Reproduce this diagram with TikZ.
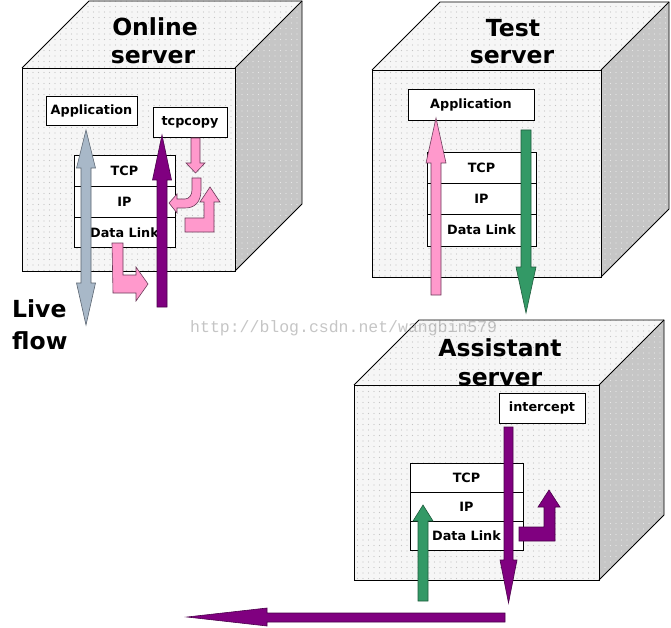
\documentclass[tikz,border=0pt]{standalone}
\usepackage{fontspec}
\setmainfont{DejaVu Sans}
\newfontfamily\wmfont{Liberation Mono}
\usetikzlibrary{patterns.meta}
\definecolor{frontc}{HTML}{F6F6F6}
\definecolor{frontdot}{HTML}{C4C4C4}
\definecolor{sidec}{HTML}{C6C6C6}
\definecolor{sidedot}{HTML}{E8E8E8}
\definecolor{pinkc}{HTML}{FF99CC}
\definecolor{pinkline}{HTML}{6B3B5A}
\definecolor{purplec}{HTML}{800080}
\definecolor{purpleline}{HTML}{4A004A}
\definecolor{greenc}{HTML}{339966}
\definecolor{greenline}{HTML}{1F5C3D}
\definecolor{grayc}{HTML}{A8B8C8}
\definecolor{grayline}{HTML}{5A6470}
\tikzdeclarepattern{
  name=cubedots, type=uncolored,
  bounding box={(-1pt,-1pt) and (1pt,1pt)},
  tile size={(5.5pt,5.5pt)},
  code={\pgfpathcircle{\pgfpointorigin}{0.6pt}\pgfusepath{fill}}
}
\tikzset{
  frontface/.style={fill=frontc, postaction={pattern=cubedots, pattern color=frontdot}},
  sideface/.style={fill=sidec, postaction={pattern=cubedots, pattern color=sidedot}},
  edge/.style={draw=black, line width=0.8pt, line join=miter},
  lbox/.style={draw=black, fill=white, line width=0.7pt, inner sep=0pt,
    font=\bfseries\fontsize{12.8}{15}\selectfont},
  title/.style={font=\bfseries\fontsize{23.5}{28}\selectfont, anchor=base, inner sep=0pt},
  pinkarr/.style={fill=pinkc, draw=pinkline, line width=0.6pt, line join=miter},
  purparr/.style={fill=purplec, draw=purpleline, line width=0.6pt, line join=miter},
  greenarr/.style={fill=greenc, draw=greenline, line width=0.6pt, line join=miter},
  grayarr/.style={fill=grayc, draw=grayline, line width=0.6pt, line join=miter},
}
% cube: x1, y1 (top), x2, y2 (bottom), depth
\newcommand\servercube[5]{%
  \path[frontface] (#1,#2) rectangle (#3,#4);
  \path[frontface] (#1,#2) -- ({#1+#5},{#2-#5}) -- ({#3+#5},{#2-#5}) -- (#3,#2) -- cycle;
  \path[sideface] (#3,#2) -- ({#3+#5},{#2-#5}) -- ({#3+#5},{#4-#5}) -- (#3,#4) -- cycle;
  \draw[edge] (#1,#2) rectangle (#3,#4);
  \draw[edge] (#1,#2) -- ({#1+#5},{#2-#5}) -- ({#3+#5},{#2-#5}) -- ({#3+#5},{#4-#5}) -- (#3,#4);
  \draw[edge] (#3,#2) -- ({#3+#5},{#2-#5});
}
\begin{document}
\begin{tikzpicture}[x=1pt,y=-1pt]
\useasboundingbox[fill=white] (0,0) rectangle (671,628);

% ---------- cubes ----------
\servercube{22}{68}{235}{271}{67}
\servercube{372}{70}{601}{277}{68}
\servercube{354}{385}{599}{580}{65}

% ---------- titles ----------
\node[title] (t1a) at (155,36) {Online};
\node[title] (t1b) at (153,64) {server};
\node[title] (t2a) at (513,37) {Test};
\node[title] (t2b) at (512,64) {server};
\node[title] (t3a) at (500,356) {Assistant};
\node[title] (t3b) at (500,385) {server};
\node[title, anchor=base west] (live) at (12,317) {Live};
\node[title, anchor=base west] (flow) at (12,349) {flow};

% ---------- online server boxes ----------
\node[lbox, minimum width=91pt, minimum height=29pt] (app1) at (91.5,110.5) {Application};
\node[lbox, minimum width=74pt, minimum height=30pt] (tcpcopy) at (190,122) {tcpcopy};
\node[lbox, minimum width=101pt, minimum height=30.7pt] (tcp1) at (124.5,171) {TCP};
\node[lbox, minimum width=101pt, minimum height=30.7pt] (ip1) at (124.5,201.7) {IP};
\node[lbox, minimum width=101pt, minimum height=30.7pt] (dl1) at (124.5,232.4) {Data Link};

% ---------- test server boxes ----------
\node[lbox, minimum width=126pt, minimum height=31pt] (app2) at (471,104.5) {Application};
\node[lbox, minimum width=109pt, minimum height=31.3pt] (tcp2) at (481.5,167.6) {TCP};
\node[lbox, minimum width=109pt, minimum height=31.3pt] (ip2) at (481.5,198.9) {IP};
\node[lbox, minimum width=109pt, minimum height=31.3pt] (dl2) at (481.5,230.2) {Data Link};

% ---------- assistant server boxes ----------
\node[lbox, minimum width=86pt, minimum height=30pt] (intercept) at (542,408) {intercept};
\node[lbox, minimum width=113pt, minimum height=29pt] (tcp3) at (466.5,477.5) {TCP};
\node[lbox, minimum width=113pt, minimum height=29pt] (ip3) at (466.5,506.5) {IP};
\node[lbox, minimum width=113pt, minimum height=29pt] (dl3) at (466.5,535.5) {Data Link};

% ---------- online server arrows ----------
% live flow double arrow
\draw[grayarr] (81,168) -- (76.5,168) -- (86,130) -- (95.5,168) -- (91,168)
  -- (91,283) -- (95.5,283) -- (86,325) -- (76.5,283) -- (81,283) -- cycle;
% purple up arrow to tcpcopy
\draw[purparr] (157,307) -- (157,180) -- (152.5,180) -- (162,135) -- (171.5,180)
  -- (167,180) -- (167,307) -- cycle;
% pink down arrow from tcpcopy
\draw[pinkarr] (191,138) -- (200,138) -- (200,163) -- (205,163) -- (195.5,173)
  -- (186,163) -- (191,163) -- cycle;
% pink curved arrow into IP
\draw[pinkarr] (192,178) -- (201,178) -- (201,190)
  .. controls (201,203) and (194,208) .. (185,208) -- (177,208) -- (177,213)
  -- (169,203) -- (177,194) -- (177,199) -- (185,199)
  .. controls (189,199) and (192,195) .. (192,190) -- cycle;
% pink L-shaped up arrow
\draw[pinkarr] (185,218) -- (204,218) -- (204,202) -- (200,202) -- (210,187)
  -- (220,202) -- (214,202) -- (214,232) -- (185,232) -- cycle;
% pink L-shaped arrow below Data Link
\draw[pinkarr] (112,243) -- (123,243) -- (123,275) -- (136,275) -- (136,267)
  -- (148,284) -- (136,301) -- (136,293) -- (113,293) -- cycle;

% ---------- test server arrows ----------
\draw[pinkarr] (431,295) -- (431,163) -- (426,163) -- (436,118) -- (446,163)
  -- (441,163) -- (441,295) -- cycle;
\draw[greenarr] (521,130) -- (531,130) -- (531,267) -- (536,267) -- (526,313)
  -- (516,267) -- (521,267) -- cycle;

% ---------- assistant server arrows ----------
\draw[purparr] (504,427) -- (513,427) -- (513,560) -- (517,560) -- (508.5,603)
  -- (500,560) -- (504,560) -- cycle;
\draw[greenarr] (418,601) -- (418,521) -- (413,521) -- (423,505) -- (433,521)
  -- (428,521) -- (428,601) -- cycle;
\draw[purparr] (519,527) -- (544,527) -- (544,507) -- (538,507) -- (549,490)
  -- (560,507) -- (555,507) -- (555,541) -- (519,541) -- cycle;
\draw[purparr] (505,613) -- (267,613) -- (267,608) -- (187,617) -- (267,626)
  -- (267,622) -- (505,622) -- cycle;

% ---------- watermark ----------
\node[anchor=base west, inner sep=0pt, text=gray, opacity=0.45,
  font=\wmfont\fontsize{16.5}{18}\selectfont] (wm) at (190,332) {http://blog.csdn.net/wangbin579};
\end{tikzpicture}
\end{document}
